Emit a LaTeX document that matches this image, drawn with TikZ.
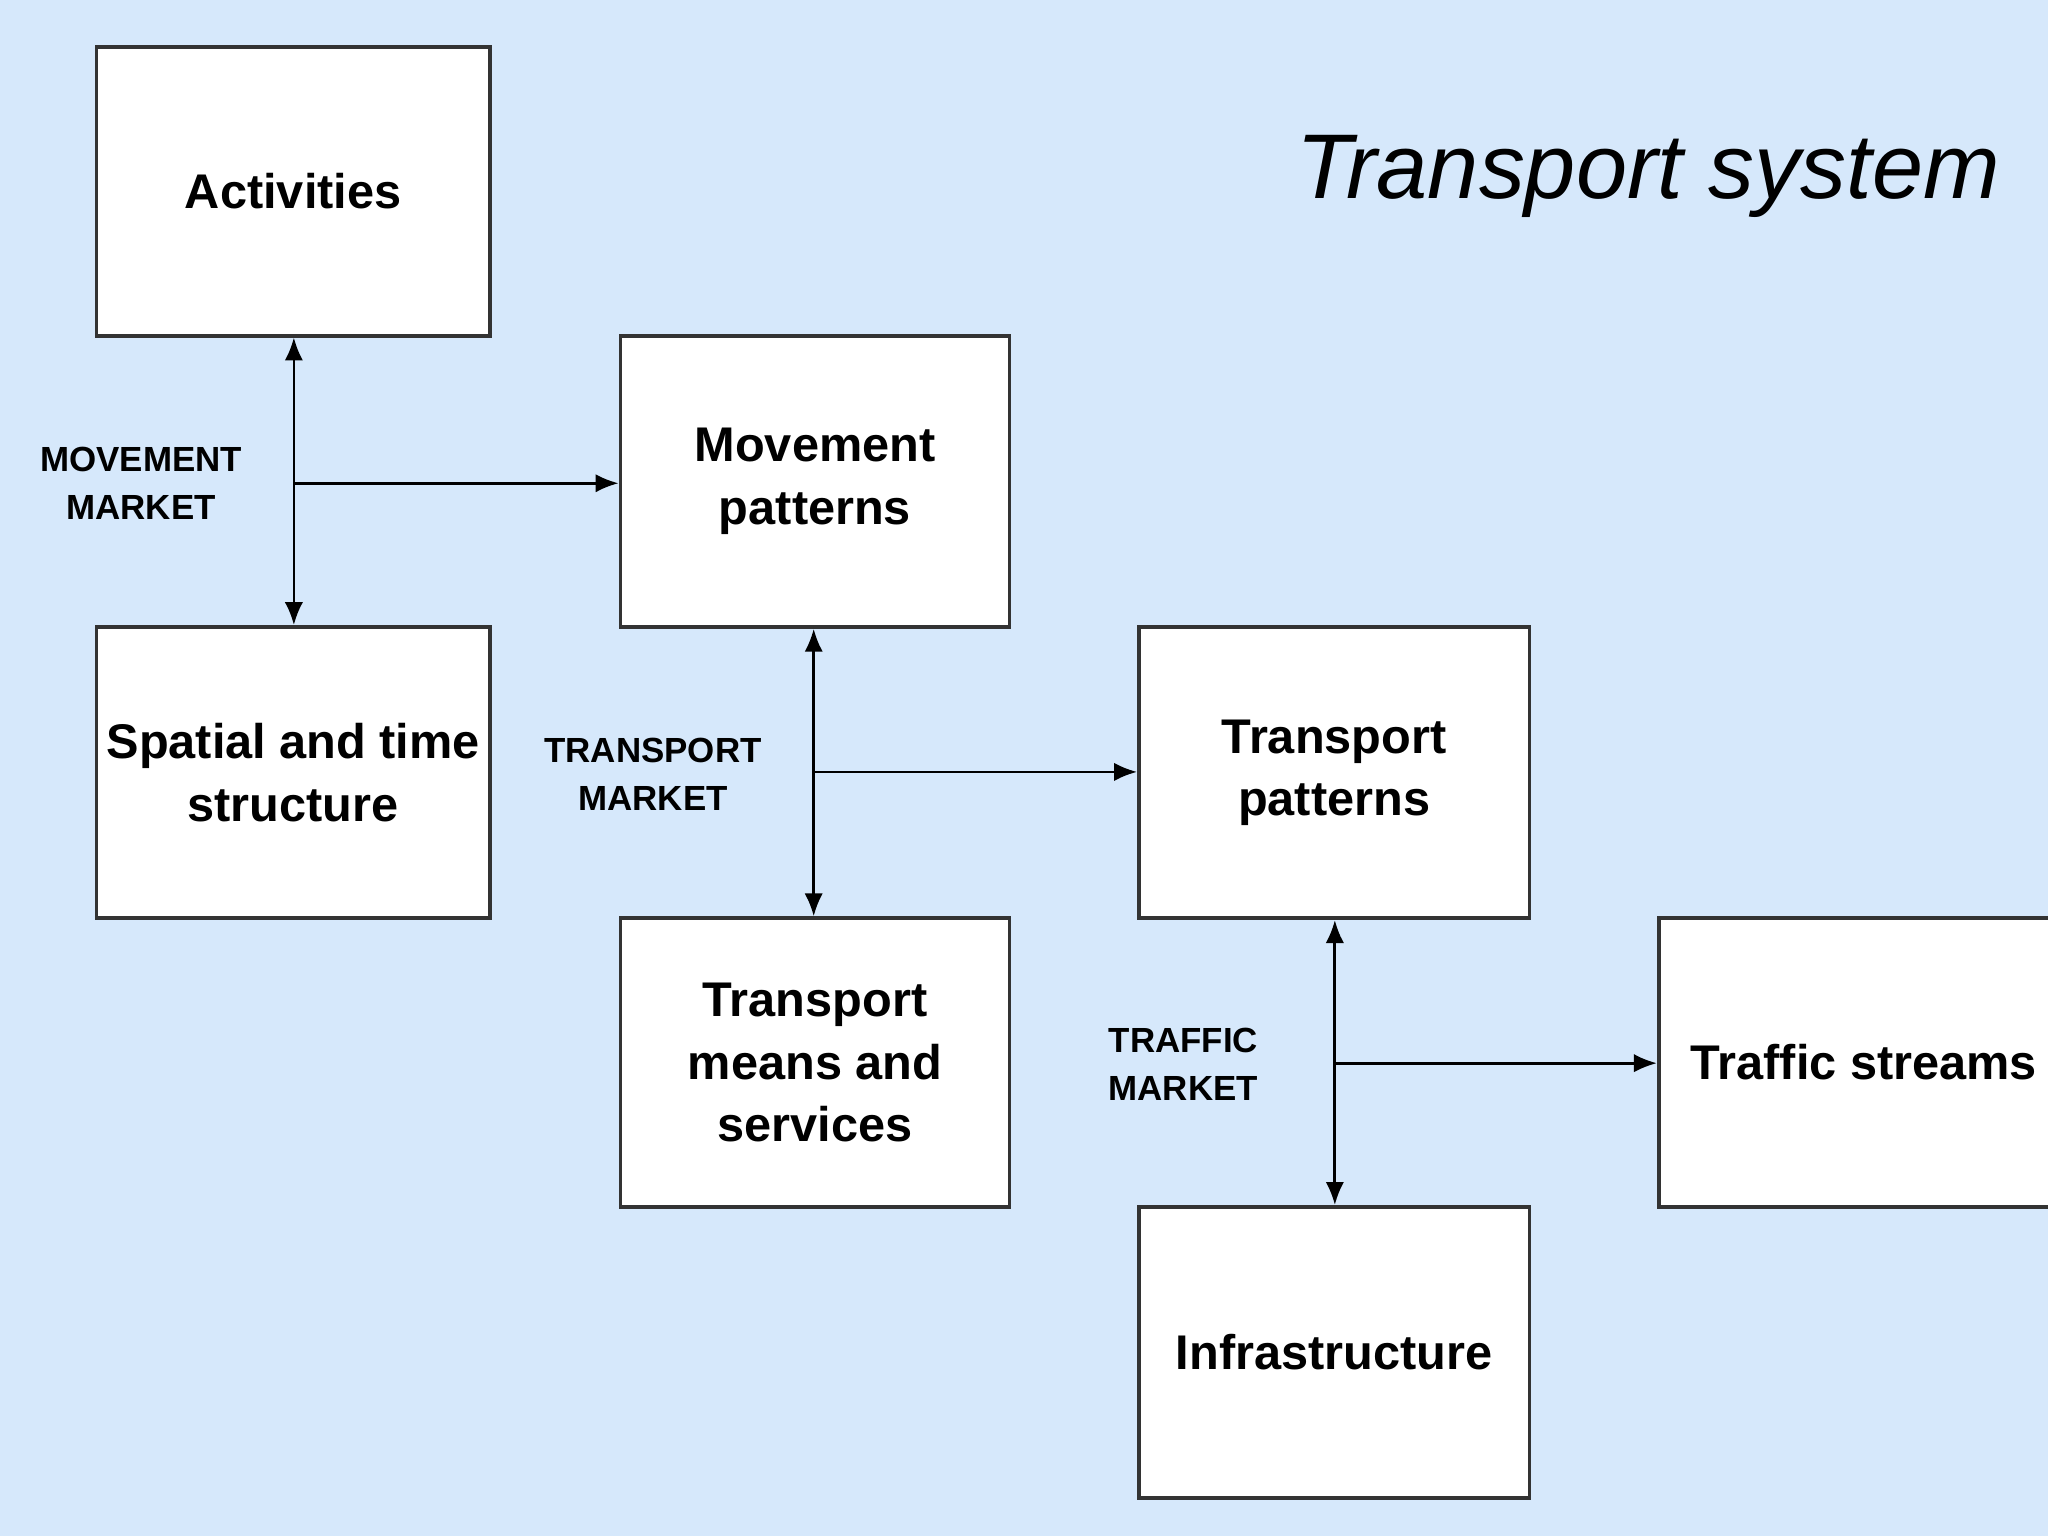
\documentclass[tikz,border=0pt]{standalone}
\usepackage{fontspec}
\setmainfont{Liberation Sans}
\usetikzlibrary{arrows.meta}
\definecolor{bg}{HTML}{D6E8FB}
\begin{document}
\begin{tikzpicture}[x=0.01cm,y=-0.01cm,
  box/.style={draw=black!80,line width=0.8pt,fill=white,align=center,font=\fontsize{10.6}{13.6}\selectfont\bfseries,inner sep=0pt},
  lab/.style={align=center,font=\fontsize{7.6}{10.4}\selectfont\bfseries},
  con/.style={line width=0.6pt},
  arr/.style={-{Latex[length=5pt,width=4pt]}},
  mk/.style args={#1,#2,#3,#4}{box,minimum width={(#3-#1)*0.01cm},minimum height={(#4-#2)*0.01cm}}]
\fill[bg] (0,0) rectangle (1568,1176);
\useasboundingbox (0,0) rectangle (1568,1176);
\node[mk={74,36,375,257}] (act) at (224.5,146.5) {Activities};
\node[mk={475,257,773,480}] (mp) at (624,368.5) {Movement\\patterns};
\node[mk={74,480,375,703}] (sp) at (224.5,591.5) {Spatial and time\\structure};
\node[mk={872,480,1171,703}] (tp) at (1021.5,591.5) {Transport\\patterns};
\node[mk={475,703,773,924}] (tm) at (624,813.5) {Transport\\means and\\services};
\begin{scope}
\clip (0,0) rectangle (1568,1176);
\node[mk={1270,703,1600,924}] (ts) at (1435,813.5) {};
\end{scope}
\node[box,draw=none,fill=none,anchor=west] (tstxt) at (1293,813.5) {Traffic streams};
\node[mk={872,924,1171,1147}] (inf) at (1021.5,1035.5) {Infrastructure};
\node[font=\fontsize{20}{24}\selectfont\itshape] (title) at (1262,135) {Transport system};
\node[lab] (l1) at (108,370) {MOVEMENT\\MARKET};
\node[lab] (l2) at (500,593) {TRANSPORT\\MARKET};
\node[lab] (l3) at (906,815) {TRAFFIC\\MARKET};
\coordinate (j1) at (225,370);
\coordinate (j2) at (623,591);
\coordinate (j3) at (1022,814);
\draw[con,{Latex[length=5pt,width=4pt]}-{Latex[length=5pt,width=4pt]}] (act.south -| j1) -- (sp.north -| j1);
\draw[con,arr] (j1) -- (j1 -| mp.west);
\draw[con,{Latex[length=5pt,width=4pt]}-{Latex[length=5pt,width=4pt]}] (mp.south -| j2) -- (tm.north -| j2);
\draw[con,arr] (j2) -- (j2 -| tp.west);
\draw[con,{Latex[length=5pt,width=4pt]}-{Latex[length=5pt,width=4pt]}] (tp.south -| j3) -- (inf.north -| j3);
\draw[con,arr] (j3) -- (j3 -| ts.west);
\end{tikzpicture}
\end{document}
